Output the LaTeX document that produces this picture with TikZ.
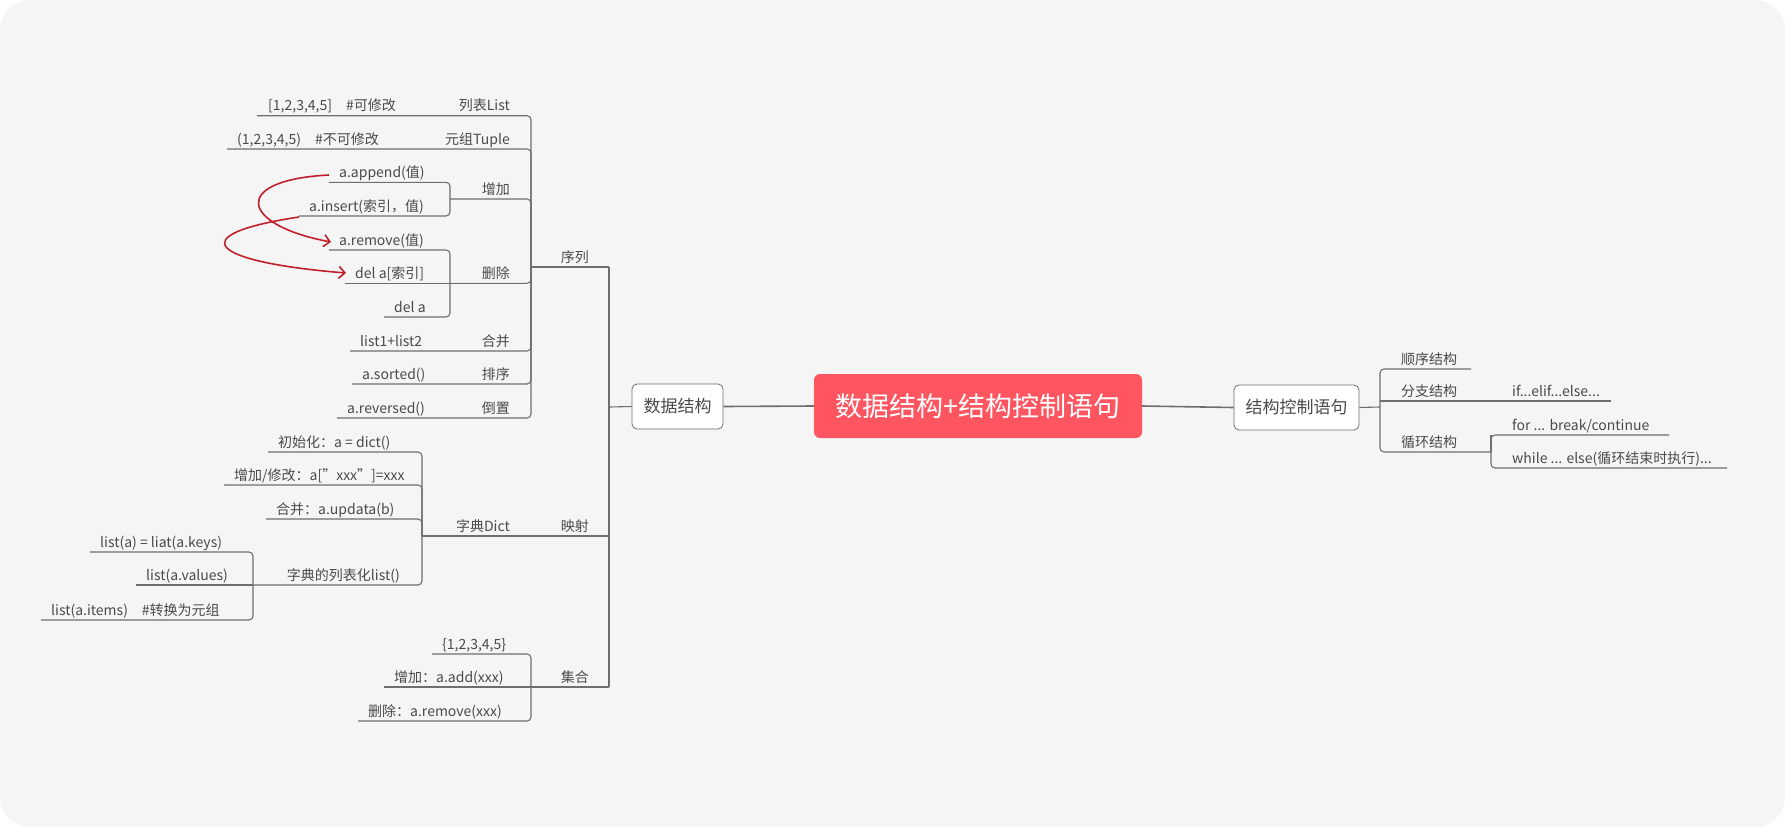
\documentclass[tikz,border=0pt]{standalone}
\usepackage{fontspec}
\setmainfont{Noto Sans CJK SC}
\usetikzlibrary{arrows.meta}
\definecolor{bg}{HTML}{F5F5F5}
\definecolor{ln}{HTML}{6E6E6E}
\definecolor{tx}{HTML}{4A4A4A}
\definecolor{rootc}{HTML}{FF5561}
\definecolor{arr}{HTML}{C0202A}
\begin{document}
\begin{tikzpicture}[x=1pt,y=-1pt,
  br/.style={draw=ln,line width=1.1pt,rounded corners=4pt},
  lf/.style={anchor=base west,inner sep=0pt,text=tx,font=\fontsize{14}{14}\selectfont},
  rt/.style={anchor=base east,inner sep=0pt,text=tx,font=\fontsize{14}{14}\selectfont},
  box/.style={draw=ln,fill=white,rounded corners=5pt,line width=0.8pt,text=tx,font=\fontsize{17}{17}\selectfont},
  red/.style={draw=arr,line width=1.6pt,-{Straight Barb[length=6pt,width=12pt,line width=1.6pt]}}]
\useasboundingbox (0,0) rectangle (1785,827);
\fill[white] (0,0) rectangle (1785,827);
\fill[bg,rounded corners=30pt] (0,0) rectangle (1785,827);
% central nodes
\node[fill=rootc,rounded corners=6pt,minimum width=328pt,minimum height=64pt,text=white,font=\fontsize{27}{27}\selectfont,inner sep=0pt] (root) at (978,406) {数据结构+结构控制语句};
\node[box,minimum width=91pt,minimum height=45pt,inner sep=0pt] (ds) at (677.5,406.5) {数据结构};
\node[box,minimum width=125pt,minimum height=45pt,inner sep=0pt] (cs) at (1296.5,407.5) {结构控制语句};
\draw[draw=ln,line width=1.6pt] (ds.east) -- (root.west);
\draw[draw=ln,line width=1.6pt] (root.east) -- (cs.west);
% ---------- left main
\coordinate (m) at (609,407);
\draw[br] (ds.west) -- (m);
\draw[br] (609,267) -- (609,687);
% 序列
\draw[br] (531,267) -- (609,267);
\node[rt] (xulie) at (589,262) {序列};
\draw[br] (257,115.7) -- (531,115.7) -- (531,267);
\node[rt] (list) at (510,110) {列表List};
\node[lf] (listv) at (268,110) {[1,2,3,4,5]\quad \#可修改};
\draw[br] (227,149) -- (531,149) -- (531,267);
\node[rt] (tup) at (510,144) {元组Tuple};
\node[lf] (tupv) at (237,144) {(1,2,3,4,5)\quad \#不可修改};
\draw[br] (450,199) -- (531,199) -- (531,267);
\node[rt] (add) at (510,194) {增加};
\draw[br] (329,182.3) -- (450,182.3) -- (450,199);
\node[lf] (app) at (339,177) {a.append(值)};
\draw[br] (299,216) -- (450,216) -- (450,199);
\node[lf] (ins) at (309,211) {a.insert(索引，值)};
\draw[br] (450,283.3) -- (531,283.3) -- (531,267);
\node[rt] (del) at (510,278) {删除};
\draw[br] (329,250) -- (450,250) -- (450,283.3);
\node[lf] (rem) at (339,245) {a.remove(值)};
\draw[br] (345,283.3) -- (450,283.3);
\node[lf] (dela) at (355,278) {del a[索引]};
\draw[br] (384,317) -- (450,317) -- (450,283.3);
\node[lf] (del2) at (394,312) {del a};
\draw[br] (350,351) -- (531,351) -- (531,267);
\node[rt] (merge) at (510,346) {合并};
\node[lf] (l12) at (360,346) {list1+list2};
\draw[br] (352,384) -- (531,384) -- (531,267);
\node[rt] (sort) at (510,379) {排序};
\node[lf] (srt) at (362,379) {a.sorted()};
\draw[br] (337,418) -- (531,418) -- (531,267);
\node[rt] (rev) at (510,413) {倒置};
\node[lf] (rvs) at (347,413) {a.reversed()};
% arrows
\draw[red] (329,175) .. controls (230,180) and (240,225) .. (331,242);
\draw[red] (299,217) .. controls (180,235) and (210,262) .. (346,273);
% 映射
\draw[br] (422,536) -- (609,536);
\node[rt] (ys) at (589,531) {映射};
\node[rt] (dict) at (510,531) {字典Dict};
\draw[br] (268,452) -- (422,452) -- (422,536);
\node[lf] (init) at (278,447) {初始化：a = dict()};
\draw[br] (224,485) -- (422,485) -- (422,536);
\node[lf] (upd) at (234,480) {增加/修改：a["xxx"]=xxx};
\draw[br] (266,519) -- (422,519) -- (422,536);
\node[lf] (mrg) at (276,514) {合并：a.updata(b)};
\draw[br] (253,585) -- (422,585) -- (422,536);
\node[rt] (tolist) at (400,580) {字典的列表化list()};
\draw[br] (90,552) -- (253,552) -- (253,585);
\node[lf] (keys) at (100,547) {list(a) = liat(a.keys)};
\draw[br] (136,585) -- (253,585);
\node[lf] (vals) at (146,580) {list(a.values)};
\draw[br] (41,620) -- (253,620) -- (253,585);
\node[lf] (items) at (51,615) {list(a.items)\quad \#转换为元组};
% 集合
\draw[br] (531,687) -- (609,687);
\node[rt] (set) at (589,682) {集合};
\draw[br] (432,654) -- (531,654) -- (531,687);
\node[lf] (setv) at (442,649) {\{1,2,3,4,5\}};
\draw[br] (384,687) -- (531,687);
\node[lf] (sadd) at (394,682) {增加：a.add(xxx)};
\draw[br] (358,721) -- (531,721) -- (531,687);
\node[lf] (srem) at (368,716) {删除：a.remove(xxx)};
% ---------- right
\draw[br] (cs.east) -- (1380,407);
\draw[br] (1471,369) -- (1380,369) -- (1380,452) -- (1491,452);
\node[lf] (seq) at (1401,364) {顺序结构};
\draw[br] (1380,401) -- (1611,401);
\node[lf] (br) at (1401,396) {分支结构};
\node[lf] (ife) at (1512,396) {if...elif...else...};
\node[lf] (loop) at (1401,447) {循环结构};
\draw[br] (1669,435) -- (1491,435) -- (1491,468) -- (1727,468);
\draw[br] (1491,452) -- (1491,435);
\node[lf] (for) at (1512,430) {for ... break/continue};
\node[lf] (while) at (1512,463) {while ... else(循环结束时执行)...};
\end{tikzpicture}
\end{document}
